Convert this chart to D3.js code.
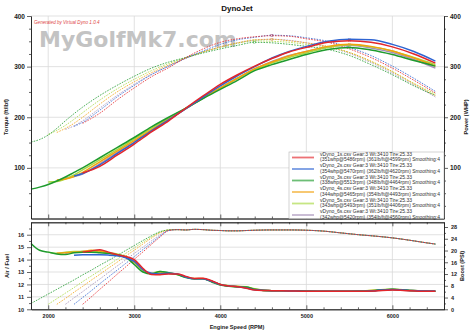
<!DOCTYPE html>
<html>
<head>
<meta charset="utf-8">
<script src="https://cdn.jsdelivr.net/npm/d3@7"></script>
<style>
  html, body { margin: 0; padding: 0; background: #fff; }
  svg { display: block; font-family: "Liberation Sans", Arial, sans-serif; }
</style>
</head>
<body>
<svg id="chart" width="474" height="334"></svg>
<script>
// ---- runs -------------------------------------------------------------
const runIds = ["1s", "2s", "3s", "4s", "5s", "6s"];
const runColors = ["#e3262b", "#2e64d2", "#1e9b2d", "#f2a10f", "#a8d840", "#a48fb8"];
const legendLine1 = [
  "vDyno_1s.csv Gear:3 Wt:3410 Tire:25.33",
  "vDyno_2s.csv Gear:3 Wt:3410 Tire:25.33",
  "vDyno_3s.csv Gear:3 Wt:3410 Tire:25.33",
  "vDyno_4s.csv Gear:3 Wt:3410 Tire:25.33",
  "vDyno_5s.csv Gear:3 Wt:3410 Tire:25.33",
  "vDyno_6s.csv Gear:3 Wt:3410 Tire:25.33"
];
const legendLine2 = [
  "(351whp@5486rpm) (361lb/ft@4599rpm) Smoothing:4",
  "(354whp@5470rpm) (362lb/ft@4620rpm) Smoothing:4",
  "(338whp@5513rpm) (348lb/ft@4464rpm) Smoothing:4",
  "(344whp@5465rpm) (354lb/ft@4493rpm) Smoothing:4",
  "(343whp@5493rpm) (351lb/ft@4406rpm) Smoothing:4",
  "(342whp@5420rpm) (354lb/ft@4560rpm) Smoothing:4"
];

// ---- torque / power (upper panel) -------------------------------------
const rpmTop = [1800,1900,2000,2100,2200,2300,2400,2600,2800,3000,3200,3400,3600,3800,4000,4200,4400,4600,4800,5000,5250,5500,5750,6000,6250,6500];

const torque1 = [null,null,null,null,null,null,188,208,234,258,280,298,318,335,348,355,359,361,360,355,348,335,318,297,273,248];
const torque2 = [null,null,null,null,null,182,190,214,240,263,284,301,317,331,344,353,358,362,361,357,350,338,322,301,277,251];
const torque3 = [151,156,165,178,193,207,220,243,263,281,297,309,318,327,335,342,348,347,344,340,334,322,304,284,262,243];
const torque4 = [null,null,null,170,178,188,200,226,250,270,288,303,317,329,339,347,353,354,351,347,340,328,311,290,266,243];
const torque5 = [null,null,166,174,184,196,209,234,256,275,292,306,318,329,338,346,351,350,348,344,338,328,310,290,267,246];
const torque6 = [null,null,null,null,176,183,193,218,243,265,285,301,316,329,339,347,352,354,352,347,339,326,308,287,264,240];

const power1 = [null,null,null,null,null,null,90,103,125,147,171,193,218,242,265,284,301,316,329,338,348,351,348,339,325,307];
const power2 = [null,null,null,null,null,84,89,106,128,150,173,195,217,240,262,282,300,317,330,340,350,354,353,344,330,311];
const power3 = [58,62,67,74,82,91,100,120,140,160,181,200,218,237,255,273,292,304,314,324,334,338,333,324,312,301];
const power4 = [null,null,null,76,78,83,91,112,133,154,175,196,217,238,258,277,296,309,321,330,340,344,340,331,317,301];
const power5 = [null,null,72,73,78,86,96,116,136,157,178,198,218,238,257,277,294,307,318,327,338,343,339,331,318,304];
const power6 = [null,null,null,null,80,83,88,108,130,151,174,195,217,238,258,277,295,310,322,330,339,342,337,328,314,297];

// ---- air/fuel and boost (lower panel) ---------------------------------
const rpmBottom = [1800,1900,2000,2100,2200,2300,2400,2500,2600,2700,2800,2900,3000,3100,3200,3300,3400,3500,3600,3700,3800,3900,4000,4100,4200,4300,4400,4600,4800,5000,5200,5400,5600,5800,6000,6200,6400,6500];

const afr1 = [null,null,null,null,null,null,14.6,14.7,14.8,14.6,14.4,14.25,14.0,13.3,12.8,12.78,12.85,12.85,12.65,12.48,12.5,12.3,12.0,11.88,11.82,11.7,11.55,11.5,11.48,11.45,11.45,11.45,11.45,11.48,11.55,11.5,11.45,11.45];
const afr2 = [null,null,null,null,null,14.35,14.38,14.38,14.38,14.36,14.3,14.15,13.85,13.2,12.9,12.85,12.9,12.85,12.6,12.45,12.45,12.25,12.0,11.88,11.82,11.72,11.58,11.5,11.48,11.45,11.45,11.45,11.45,11.5,11.6,11.52,11.47,11.47];
const afr3 = [15.3,14.75,14.6,14.45,14.4,14.55,14.6,14.6,14.55,14.5,14.4,14.2,13.6,13.0,12.85,13.05,12.95,12.8,12.55,12.45,12.45,12.2,11.95,11.85,11.8,11.8,11.62,11.5,11.5,11.47,11.45,11.45,11.47,11.52,11.62,11.52,11.47,11.46];
const afr4 = [null,null,null,14.5,14.55,14.6,14.65,14.75,14.7,14.5,14.35,14.2,13.8,13.2,12.85,12.9,12.9,12.82,12.6,12.47,12.47,12.25,12.0,11.88,11.83,11.78,11.6,11.5,11.5,11.46,11.45,11.45,11.46,11.52,11.6,11.52,11.46,11.45];
const afr5 = [null,null,14.6,14.5,14.6,14.65,14.65,14.7,14.65,14.55,14.45,14.25,13.8,13.1,12.9,13.05,12.9,12.8,12.6,12.45,12.45,12.25,12.0,11.9,11.85,11.82,11.65,11.5,11.5,11.47,11.45,11.45,11.47,11.55,11.63,11.53,11.47,11.46];
const afr6 = [null,null,null,null,14.5,14.6,14.65,14.7,14.75,14.55,14.35,14.2,13.9,13.15,12.88,12.92,12.9,12.82,12.6,12.46,12.46,12.25,12.0,11.88,11.83,11.75,11.58,11.5,11.49,11.46,11.45,11.45,11.46,11.5,11.58,11.5,11.46,11.45];

// boost spool-up per run (1800-3400 rpm) and the common plateau after it
const boostRamp1 = [null,null,null,null,null,null,1.7,4.2,6.8,9.3,11.9,14.4,17.0,19.5,22.1,24.6,26.8];
const boostRamp2 = [null,null,null,null,null,1.7,4.0,6.3,8.7,11.0,13.3,15.6,17.9,20.3,22.6,24.9,26.8];
const boostRamp3 = [2.0,3.6,5.2,6.8,8.4,10.0,11.7,13.3,15.0,16.6,18.3,20.0,21.7,23.4,25.0,26.4,27.0];
const boostRamp4 = [null,null,null,1.7,3.7,5.8,7.8,9.9,11.9,14.0,16.0,18.1,20.1,22.2,24.2,26.0,27.0];
const boostRamp5 = [null,null,1.7,3.6,5.5,7.4,9.4,11.3,13.2,15.1,17.0,19.0,20.9,22.8,24.6,26.3,27.0];
const boostRamp6 = [null,null,null,null,1.7,3.9,6.0,8.2,10.3,12.5,14.7,16.8,19.0,21.1,23.3,25.3,26.9];
const boostTail = [27.1,27.0,27.2,27.1,26.9,26.8,26.7,26.7,26.8,26.9,27.0,27.0,26.9,26.6,26.0,25.4,24.9,24.3,23.5,22.6,22.2];

// ---- axis ticks ---------------------------------------------------------
const rpmTicks = [2000, 3000, 4000, 5000, 6000];
const tqTicks = [100, 200, 300, 400];
const afrTicks = [10, 11, 12, 13, 14, 15, 16];
const boostTicks = [0, 4, 8, 12, 16, 20, 24, 28];

const torqueRuns = [torque1, torque2, torque3, torque4, torque5, torque6];
const powerRuns = [power1, power2, power3, power4, power5, power6];
const afrRuns = [afr1, afr2, afr3, afr4, afr5, afr6];
const boostRuns = [boostRamp1, boostRamp2, boostRamp3, boostRamp4, boostRamp5, boostRamp6]
  .map(r => r.concat(boostTail));

// ---- layout ----------------------------------------------------------
const svg = d3.select("#chart");
const L = 31, R = 444;
const topY0 = 16, topY1 = 218.5;
const botY0 = 222.3, botY1 = 309.3;

const x = d3.scaleLinear().domain([1800, 6600]).range([L, R]);
const yTq = d3.scaleLinear().domain([0, 400]).range([topY1, topY0]);
const yAfr = d3.scaleLinear().domain([10, 17]).range([botY1, botY0]);
const yBoost = d3.scaleLinear().domain([0, 29.6]).range([botY1, botY0]);

const gridColor = "#d9d9d9";
const grid = svg.append("g").attr("stroke", gridColor).attr("stroke-width", 0.8);
rpmTicks.forEach(v => {
  grid.append("line").attr("x1", x(v)).attr("x2", x(v)).attr("y1", topY0).attr("y2", topY1);
  grid.append("line").attr("x1", x(v)).attr("x2", x(v)).attr("y1", botY0).attr("y2", botY1);
});
tqTicks.forEach(v => {
  grid.append("line").attr("x1", L).attr("x2", R).attr("y1", yTq(v)).attr("y2", yTq(v));
});
afrTicks.slice(1).forEach(v => {
  grid.append("line").attr("x1", L).attr("x2", R).attr("y1", yAfr(v)).attr("y2", yAfr(v));
});

// title and watermark
svg.append("text").attr("x", 237).attr("y", 11).attr("text-anchor", "middle")
  .attr("font-size", 8).attr("font-weight", "bold").attr("fill", "#111").text("DynoJet");
svg.append("text").attr("x", 39).attr("y", 46.5)
  .attr("font-family", "'DejaVu Sans', sans-serif").attr("font-weight", "bold")
  .attr("font-size", 22).attr("fill", "#c3c3c3").text("MyGolfMk7.com");
svg.append("text").attr("x", 34).attr("y", 23.8)
  .attr("font-size", 4.6).attr("font-style", "italic").attr("fill", "#e04848")
  .text("Generated by Virtual Dyno 1.0.4");

// ---- curves --------------------------------------------------------
const drawOrder = [5, 4, 3, 2, 1, 0];

function series(rpm, vals) {
  return rpm.map((r, i) => [r, vals[i]]);
}
const lineTop = d3.line().defined(d => d[1] != null)
  .x(d => x(d[0])).y(d => yTq(d[1])).curve(d3.curveMonotoneX);
const lineAfr = d3.line().defined(d => d[1] != null)
  .x(d => x(d[0])).y(d => yAfr(d[1])).curve(d3.curveMonotoneX);
const lineBoost = d3.line().defined(d => d[1] != null)
  .x(d => x(d[0])).y(d => yBoost(d[1])).curve(d3.curveMonotoneX);

const curves = svg.append("g").attr("fill", "none");
drawOrder.forEach(i => {
  curves.append("path").attr("d", lineTop(series(rpmTop, torqueRuns[i])))
    .attr("stroke", runColors[i]).attr("stroke-width", 0.8).attr("stroke-dasharray", "1.6,1.2");
});
drawOrder.forEach(i => {
  curves.append("path").attr("d", lineTop(series(rpmTop, powerRuns[i])))
    .attr("stroke", runColors[i]).attr("stroke-width", 1.5);
});
drawOrder.forEach(i => {
  curves.append("path").attr("d", lineBoost(series(rpmBottom, boostRuns[i])))
    .attr("stroke", runColors[i]).attr("stroke-width", 0.8).attr("stroke-dasharray", "1.6,1.2");
});
drawOrder.forEach(i => {
  curves.append("path").attr("d", lineAfr(series(rpmBottom, afrRuns[i])))
    .attr("stroke", runColors[i]).attr("stroke-width", 1.5);
});

// peak markers on torque and power
drawOrder.forEach(i => {
  [torqueRuns[i], powerRuns[i]].forEach(vals => {
    const k = d3.maxIndex(vals);
    curves.append("rect")
      .attr("x", x(rpmTop[k]) - 1).attr("y", yTq(vals[k]) - 1)
      .attr("width", 2).attr("height", 2)
      .attr("stroke", runColors[i]).attr("stroke-width", 0.4).attr("stroke-opacity", 0.7);
  });
});

// ---- axes ---------------------------------------------------------
function styleAxis(g, fontSize) {
  g.selectAll("path.domain").attr("stroke", "#222").attr("stroke-width", 0.8);
  g.selectAll(".tick line").attr("stroke", "#222").attr("stroke-width", 0.7);
  g.selectAll("text").attr("font-size", fontSize).attr("font-weight", "bold")
    .attr("fill", "#222").attr("font-family", "'Liberation Sans', Arial, sans-serif");
}
const rpmMinor = d3.range(1800, 6601, 200).filter(v => !rpmTicks.includes(v));
const tqMinor = d3.range(25, 400, 25).filter(v => !tqTicks.includes(v));
const afrMinor = d3.range(10.5, 17, 0.5).filter(v => !afrTicks.includes(v));
const boostMinor = d3.range(2, 29.6, 4);
const intFmt = d3.format("d");

function addAxis(axis, tx, ty, fs) {
  const g = svg.append("g").attr("transform", `translate(${tx},${ty})`).call(axis);
  styleAxis(g, fs);
  return g;
}

// upper panel
addAxis(d3.axisLeft(yTq).tickValues(tqTicks).tickSize(4).tickSizeOuter(0).tickPadding(2).tickFormat(intFmt), L, 0, 6.5);
addAxis(d3.axisLeft(yTq).tickValues(tqMinor).tickSize(2).tickSizeOuter(0).tickFormat(""), L, 0, 6.5);
addAxis(d3.axisRight(yTq).tickValues(tqTicks).tickSize(4).tickSizeOuter(0).tickPadding(2).tickFormat(intFmt), R, 0, 6.5);
addAxis(d3.axisRight(yTq).tickValues(tqMinor).tickSize(2).tickSizeOuter(0).tickFormat(""), R, 0, 6.5);
addAxis(d3.axisTop(x).tickValues(rpmTicks).tickSize(4).tickSizeOuter(0).tickFormat(""), 0, topY1, 6);
addAxis(d3.axisTop(x).tickValues(rpmMinor).tickSize(2).tickSizeOuter(0).tickFormat(""), 0, topY1, 6);

// lower panel
addAxis(d3.axisLeft(yAfr).tickValues(afrTicks).tickSize(4).tickSizeOuter(0).tickPadding(3).tickFormat(intFmt), L, 0, 5.5);
addAxis(d3.axisLeft(yAfr).tickValues(afrMinor).tickSize(2).tickSizeOuter(0).tickFormat(""), L, 0, 5.5);
addAxis(d3.axisRight(yBoost).tickValues(boostTicks).tickSize(4).tickSizeOuter(0).tickPadding(3).tickFormat(intFmt), R, 0, 5.5);
addAxis(d3.axisRight(yBoost).tickValues(boostMinor).tickSize(2).tickSizeOuter(0).tickFormat(""), R, 0, 5.5);
addAxis(d3.axisBottom(x).tickValues(rpmTicks).tickSize(4).tickSizeOuter(0).tickFormat(""), 0, botY0, 6);
addAxis(d3.axisBottom(x).tickValues(rpmMinor).tickSize(2).tickSizeOuter(0).tickFormat(""), 0, botY0, 6);
addAxis(d3.axisBottom(x).tickValues(rpmTicks).tickSize(-4).tickSizeOuter(0).tickPadding(5).tickFormat(intFmt), 0, botY1, 5.5);
addAxis(d3.axisBottom(x).tickValues(rpmMinor).tickSize(-2).tickSizeOuter(0).tickFormat(""), 0, botY1, 5.5);

// axis titles
function rotTitle(tx, ty, angle, label) {
  svg.append("text").attr("transform", `translate(${tx},${ty}) rotate(${angle})`)
    .attr("text-anchor", "middle").attr("font-size", 5.6).attr("font-weight", "bold")
    .attr("fill", "#222").text(label);
}
rotTitle(8, 117, -90, "Torque (ft/lbf)");
rotTitle(468, 117, -90, "Power (WHP)");
rotTitle(9, 266, -90, "Air / Fuel");
rotTitle(464, 266, -90, "Boost (PSI)");
svg.append("text").attr("x", 237).attr("y", 329).attr("text-anchor", "middle")
  .attr("font-size", 5.6).attr("font-weight", "bold").attr("fill", "#222")
  .text("Engine Speed (RPM)");

// ---- legend ---------------------------------------------------------
const lg = svg.append("g");
lg.append("rect").attr("x", 289).attr("y", 152).attr("width", R - 289).attr("height", topY1 - 152)
  .attr("fill", "#fff").attr("stroke", "#b5b5b5").attr("stroke-width", 0.6);
runIds.forEach((id, i) => {
  const cy = 157.5 + i * 11.5;
  lg.append("line").attr("x1", 292).attr("x2", 314).attr("y1", cy).attr("y2", cy)
    .attr("stroke", runColors[i]).attr("stroke-width", 1.8).attr("stroke-opacity", 0.65);
  lg.append("text").attr("x", 320).attr("y", cy - 1.6).attr("font-size", 4.8)
    .attr("textLength", 92).attr("lengthAdjust", "spacingAndGlyphs")
    .attr("fill", "#333").text(legendLine1[i]);
  lg.append("text").attr("x", 320).attr("y", cy + 3.9).attr("font-size", 4.8)
    .attr("textLength", 120).attr("lengthAdjust", "spacingAndGlyphs")
    .attr("fill", "#333").text(legendLine2[i]);
});
</script>
</body>
</html>
